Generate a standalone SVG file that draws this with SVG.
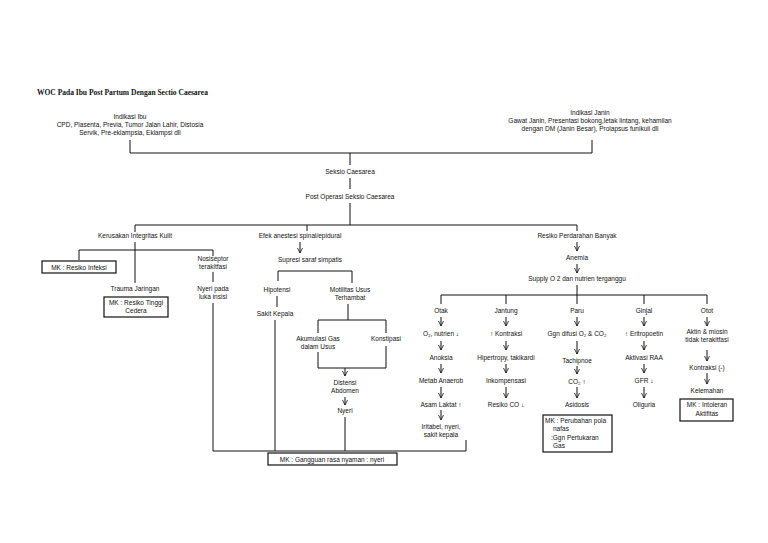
<svg xmlns="http://www.w3.org/2000/svg" width="768" height="543" viewBox="0 0 768 543">
<style>
text{font-family:"Liberation Sans",Arial,sans-serif;font-size:6.5px;fill:#111;text-anchor:middle}
.t{font-family:"Liberation Serif",serif;font-size:7.5px;font-weight:bold;text-anchor:start}
line,polyline{stroke:#111;stroke-width:1;fill:none}
.a{marker-end:url(#ar)}
rect{fill:#fff;stroke:#111;stroke-width:1.2}
</style>
<defs><marker id="ar" markerWidth="6" markerHeight="6" refX="5" refY="3" orient="auto" markerUnits="userSpaceOnUse"><path d="M0,0.5 L5,3 L0,5.5" fill="none" stroke="#111" stroke-width="0.8"/></marker></defs>
<rect x="0" y="0" width="768" height="543" style="stroke:none"/>
<text class="t" x="37" y="95">WOC Pada Ibu Post Partum Dengan Sectio Caesarea</text>
<g id="connectors">
<polyline points="130,140 130,153 592,153 592,140"/>
<line x1="350" y1="153" x2="350" y2="165"/>
<line x1="350" y1="178" x2="350" y2="189"/>
<line x1="350" y1="203" x2="350" y2="225"/>
<polyline points="135,232 135,225 577,225 577,231"/>
<line x1="307" y1="225" x2="307" y2="231"/>
<polyline points="79,260 79,250 213,250 213,256"/>
<line x1="135" y1="242" x2="135" y2="283"/>
<line x1="213" y1="272" x2="213" y2="282"/>
<line x1="213" y1="303" x2="213" y2="451"/>
<line x1="213" y1="451" x2="466" y2="451"/>
<line x1="300" y1="242" x2="300" y2="253" class="a"/>
<polyline points="278,281 278,271 352,271 352,283"/>
<line x1="277" y1="296" x2="277" y2="307"/>
<line x1="275" y1="320" x2="275" y2="451"/>
<line x1="348" y1="304" x2="348" y2="320"/>
<polyline points="318,333 318,320 386,320 386,333"/>
<polyline points="318,352 318,368 386,368 386,346"/>
<line x1="345" y1="368" x2="345" y2="376" class="a"/>
<line x1="345" y1="397" x2="345" y2="405" class="a"/>
<line x1="345" y1="417" x2="345" y2="451"/>
<polyline points="466,440 466,451"/>
<line x1="577" y1="242" x2="577" y2="251" class="a"/>
<line x1="577" y1="264" x2="577" y2="273" class="a"/>
<line x1="577" y1="285" x2="577" y2="295"/>
<polyline points="441,304 441,295 707,295 707,304"/>
<line x1="506" y1="295" x2="506" y2="304"/><line x1="577" y1="295" x2="577" y2="304"/><line x1="644" y1="295" x2="644" y2="304"/>
<g class="a">
<line x1="441" y1="317" x2="441" y2="326" class="a"/><line x1="506" y1="317" x2="506" y2="326" class="a"/><line x1="577" y1="317" x2="577" y2="326" class="a"/><line x1="644" y1="317" x2="644" y2="326" class="a"/><line x1="707" y1="317" x2="707" y2="326" class="a"/>
<line x1="441" y1="341" x2="441" y2="350" class="a"/><line x1="506" y1="341" x2="506" y2="350" class="a"/><line x1="577" y1="341" x2="577" y2="354" class="a"/><line x1="644" y1="341" x2="644" y2="350" class="a"/><line x1="707" y1="350" x2="707" y2="361" class="a"/>
<line x1="441" y1="364" x2="441" y2="373" class="a"/><line x1="506" y1="364" x2="506" y2="373" class="a"/><line x1="577" y1="366" x2="577" y2="374" class="a"/><line x1="644" y1="364" x2="644" y2="373" class="a"/><line x1="707" y1="373" x2="707" y2="384" class="a"/>
<line x1="441" y1="387" x2="441" y2="398" class="a"/><line x1="506" y1="387" x2="506" y2="398" class="a"/><line x1="577" y1="387" x2="577" y2="398" class="a"/><line x1="644" y1="387" x2="644" y2="398" class="a"/>
<line x1="441" y1="410" x2="441" y2="420" class="a"/>
</g>
</g>
<g id="indikasi-ibu"><text x="130" y="119">Indikasi Ibu</text><text x="130" y="127">CPD, Plasenta, Previa, Tumor Jalan Lahir, Distosia</text><text x="130" y="135">Servik, Pre-eklampsia, Eklampsi dll</text></g>
<g id="indikasi-janin"><text x="590" y="115">Indikasi Janin</text><text x="590" y="123">Gawat Janin, Presentasi bokong,letak lintang, kehamilan</text><text x="590" y="131">dengan DM (Janin Besar), Prolapsus funikuli dll</text></g>
<g id="sc"><text x="350" y="174">Seksio Caesarea</text></g>
<g id="post"><text x="350" y="199">Post Operasi Seksio Caesarea</text></g>
<g id="kerusakan"><text x="135" y="238">Kerusakan Integritas Kulit</text></g>
<g id="mk-infeksi"><rect x="42" y="261" width="74" height="12"/><text x="79" y="269.5">MK : Resiko Infeksi</text></g>
<g id="trauma"><text x="135" y="291">Trauma Jaringan</text></g>
<g id="mk-cedera"><rect x="104" y="297" width="64" height="20"/><text x="136" y="305">MK : Resiko Tinggi</text><text x="136" y="313">Cedera</text></g>
<g id="nosiseptor"><text x="213" y="261">Nosiseptor</text><text x="213" y="269">terakitfasi</text></g>
<g id="nyeri-luka"><text x="213" y="291">Nyeri pada</text><text x="213" y="299">luka insisi</text></g>
<g id="efek"><text x="300" y="238">Efek anestesi spinal/epidural</text></g>
<g id="supresi"><text x="310" y="262">Supresi saraf simpatis</text></g>
<g id="hipotensi"><text x="277" y="292">Hipotensi</text></g>
<g id="sakit-kepala"><text x="275" y="316">Sakit Kepala</text></g>
<g id="motilitas"><text x="350" y="292">Motilitas Usus</text><text x="350" y="300">Terhambat</text></g>
<g id="akumulasi"><text x="318" y="341">Akumulasi Gas</text><text x="318" y="349">dalam Usus</text></g>
<g id="konstipasi"><text x="386" y="341">Konstipasi</text></g>
<g id="distensi"><text x="345" y="385">Distensi</text><text x="345" y="393">Abdomen</text></g>
<g id="nyeri"><text x="345" y="413">Nyeri</text></g>
<g id="mk-nyeri"><rect x="268" y="453" width="129" height="12"/><text x="332" y="461.5">MK : Gangguan rasa nyaman : nyeri</text></g>
<g id="resiko"><text x="577" y="238">Resiko Perdarahan Banyak</text></g>
<g id="anemia"><text x="577" y="260">Anemia</text></g>
<g id="supply"><text x="577" y="281">Supply O 2 dan nutrien terganggu</text></g>
<g id="otak"><text x="441" y="313">Otak</text><text x="441" y="336">O₂, nutrien ↓</text><text x="441" y="360">Anoksia</text><text x="441" y="383">Metab Anaerob</text><text x="441" y="407">Asam Laktat ↑</text><text x="441" y="429">Iritabel, nyeri,</text><text x="441" y="437">sakit kepala</text></g>
<g id="jantung"><text x="506" y="313">Jantung</text><text x="506" y="336">↑ Kontraksi</text><text x="506" y="360">Hipertropy, takikardi</text><text x="506" y="383">Inkompensasi</text><text x="506" y="407">Resiko CO ↓</text></g>
<g id="paru"><text x="577" y="313">Paru</text><text x="577" y="336">Ggn difusi O₂ &amp; CO₂</text><text x="577" y="363">Tachipnoe</text><text x="577" y="384">CO₂ ↑</text><text x="577" y="407">Asidosis</text></g>
<g id="mk-paru"><rect x="543" y="415" width="69" height="37"/><text x="545" y="423" style="text-anchor:start">MK : Perubahan pola</text><text x="553" y="431" style="text-anchor:start">nafas</text><text x="551" y="440" style="text-anchor:start">:Ggn Pertukaran</text><text x="553" y="448" style="text-anchor:start">Gas</text></g>
<g id="ginjal"><text x="644" y="313">Ginjal</text><text x="644" y="336">↑ Eritropoetin</text><text x="644" y="360">Aktivasi RAA</text><text x="644" y="383">GFR ↓</text><text x="644" y="407">Oliguria</text></g>
<g id="otot"><text x="707" y="313">Otot</text><text x="707" y="334">Aktin &amp; miosin</text><text x="707" y="342">tidak terakitfasi</text><text x="707" y="370">Kontraksi (-)</text><text x="707" y="393">Kelemahan</text></g>
<g id="mk-otot"><rect x="680" y="399" width="53" height="22"/><text x="707" y="407">MK : Intoleran</text><text x="707" y="416">Aktifitas</text></g>
</svg>
